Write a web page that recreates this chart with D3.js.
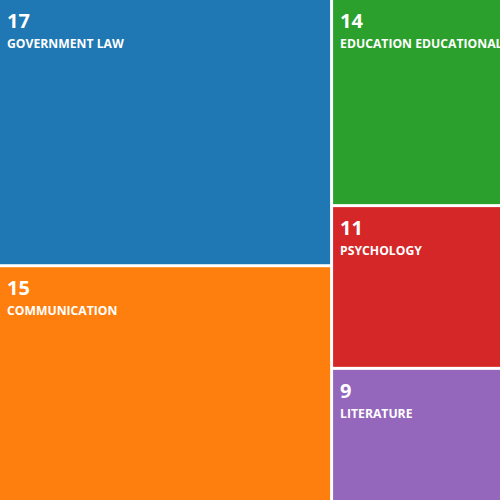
<!DOCTYPE html>
<html>
<head>
<meta charset="utf-8">
<script src="https://cdn.jsdelivr.net/npm/d3@7"></script>
<style>
  html, body { margin: 0; padding: 0; background: #fff; }
  svg { display: block; overflow: hidden; }
  text { font-family: "Open Sans", "Noto Sans", sans-serif; font-weight: 700; fill: #fff; }
</style>
</head>
<body>
<svg id="chart" width="500" height="500"></svg>
<script>
const categories = ["GOVERNMENT LAW", "COMMUNICATION", "EDUCATION EDUCATIONAL", "PSYCHOLOGY", "LITERATURE"];
const values = [17, 15, 14, 11, 9];
const columnOf = [0, 0, 1, 1, 1];
const colors = ["#1f77b4", "#ff7f0e", "#2ca02c", "#d62728", "#9467bd"];

const W = 684, H = 500;

const data = {
  name: "root",
  children: [0, 1].map(c => ({
    name: "col" + c,
    children: categories.map((name, i) => ({ name, value: values[i], idx: i })).filter(d => columnOf[d.idx] === c)
  }))
};

const root = d3.hierarchy(data).sum(d => d.value || 0);
d3.treemap().size([W, H]).tile(d3.treemapSliceDice).paddingInner(3)(root);

const color = d3.scaleOrdinal().domain(categories).range(colors);
const svg = d3.select("#chart");

const leaf = svg.selectAll("g.leaf").data(root.leaves()).join("g")
  .attr("class", "leaf")
  .attr("transform", d => `translate(${d.x0},${d.y0})`);

leaf.append("rect")
  .attr("width", d => d.x1 - d.x0)
  .attr("height", d => d.y1 - d.y0)
  .attr("fill", d => color(d.data.name));

leaf.append("text")
  .attr("x", 7).attr("y", 28)
  .style("font-size", "20px")
  .text(d => d.data.value);

leaf.append("text")
  .attr("x", 7).attr("y", 48)
  .style("font-size", "12.2px")
  .text(d => d.data.name);
</script>
</body>
</html>
